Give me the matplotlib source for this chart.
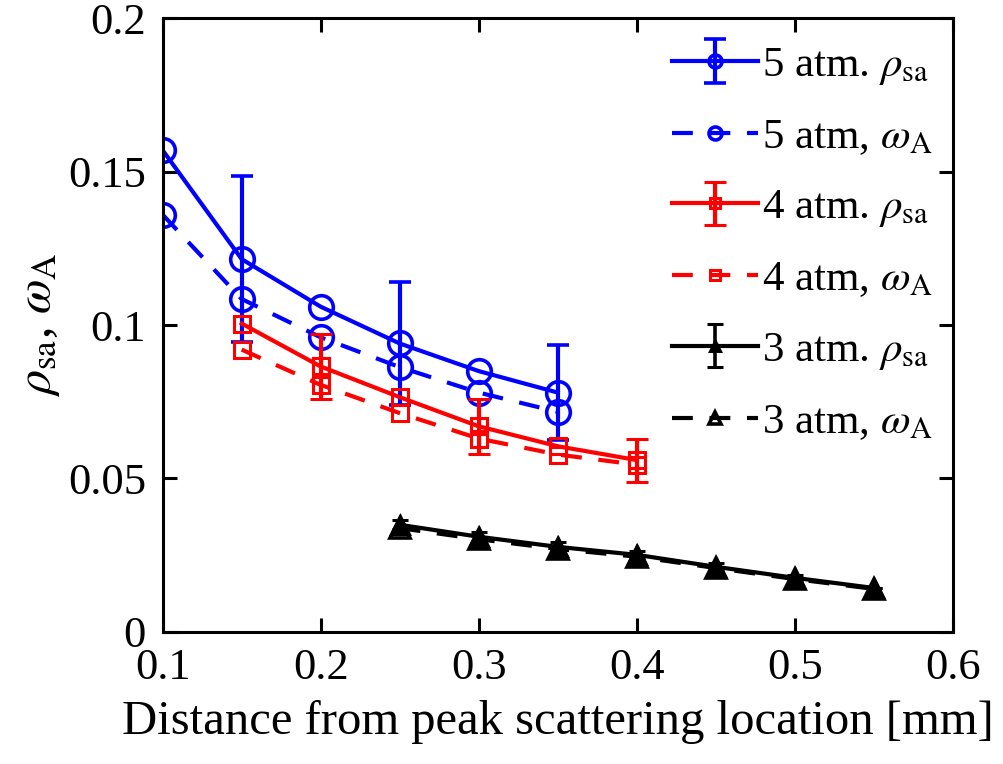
import matplotlib
matplotlib.use("Agg")
import matplotlib.pyplot as plt
import numpy as np

plt.rcParams["font.family"] = ["Liberation Serif", "DejaVu Serif"]
plt.rcParams["mathtext.fontset"] = "stix"

# 5 atm
x5 = [0.10, 0.15, 0.20, 0.25, 0.30, 0.35]
rho5 = [0.157, 0.1215, 0.106, 0.094, 0.085, 0.078]
rho5_err = [0.0, 0.027, 0.0, 0.020, 0.0, 0.0155]
om5 = [0.136, 0.1085, 0.096, 0.0863, 0.078, 0.0717]

# 4 atm
x4 = [0.15, 0.20, 0.25, 0.30, 0.35, 0.40]
rho4 = [0.1005, 0.0865, 0.0765, 0.067, 0.0605, 0.056]
rho4_err = [0.0, 0.0105, 0.0, 0.009, 0.0, 0.007]
om4 = [0.092, 0.0805, 0.0713, 0.063, 0.0578, 0.0545]

# 3 atm
x3 = [0.25, 0.30, 0.35, 0.40, 0.45, 0.50, 0.55]
rho3 = [0.0349, 0.031, 0.0277, 0.0251, 0.0212, 0.0176, 0.0143]
rho3_err = [0.0015, 0.0015, 0.0015, 0.0012, 0.0012, 0.001, 0.0]
om3 = [0.0338, 0.0302, 0.0270, 0.0245, 0.0208, 0.0172, 0.0140]

fig = plt.figure(figsize=(10.04, 7.64), dpi=100)
ax = fig.add_axes([0.162, 0.173, 0.787, 0.803])

lw = 3.0
h = []
h.append(ax.errorbar(x5, rho5, yerr=rho5_err, errorevery=(1, 2), color="blue", ls="-", lw=lw,
                     marker="o", ms=17, mfc="none", mew=2.6, capsize=8, capthick=3, elinewidth=3,
                     label=r"5 atm. $\rho_{\rm sa}$"))
h.append(ax.plot(x5, om5, color="blue", ls="--", lw=lw, dashes=(5, 4), marker="o", ms=17,
                 mfc="none", mew=2.6, label=r"5 atm, $\omega_{\rm A}$")[0])
h.append(ax.errorbar(x4, rho4, yerr=rho4_err, errorevery=(1, 2), color="red", ls="-", lw=lw,
                     marker="s", ms=12, mfc="none", mew=2.2, capsize=8, capthick=3, elinewidth=3,
                     label=r"4 atm. $\rho_{\rm sa}$"))
h.append(ax.plot(x4, om4, color="red", ls="--", lw=lw, dashes=(5, 4), marker="s", ms=12,
                 mfc="none", mew=2.2, label=r"4 atm, $\omega_{\rm A}$")[0])
h.append(ax.errorbar(x3, rho3, yerr=rho3_err, color="black", ls="-", lw=lw,
                     marker="^", ms=13, mfc="black", mew=2.2, capsize=6, capthick=2.6,
                     elinewidth=2.6, label=r"3 atm. $\rho_{\rm sa}$"))
h.append(ax.plot(x3, om3, color="black", ls="--", lw=lw, dashes=(5, 4), marker="^", ms=15,
                 mfc="none", mew=2.6, label=r"3 atm, $\omega_{\rm A}$")[0])

ax.set_xlim(0.1, 0.6)
ax.set_ylim(0, 0.2)
ax.set_xticks([0.1, 0.2, 0.3, 0.4, 0.5, 0.6])
ax.set_xticklabels(["0.1", "0.2", "0.3", "0.4", "0.5", "0.6"])
ax.set_yticks([0, 0.05, 0.1, 0.15, 0.2])
ax.set_yticklabels(["0", "0.05", "0.1", "0.15", "0.2"])
ax.tick_params(direction="in", length=10, width=2.2, labelsize=32, top=True, right=True, pad=12)
for s in ax.spines.values():
    s.set_linewidth(2.2)
ax.set_xlabel("Distance from peak scattering location [mm]", fontsize=35, labelpad=8)
ax.set_ylabel(r"$\rho_{\rm sa}$, $\omega_{\rm A}$", fontsize=36, labelpad=4)

leg = ax.legend(h, [x.get_label() for x in h], loc="upper right", frameon=False, fontsize=31,
                handlelength=2.0, handletextpad=0.1, labelspacing=0.72, borderaxespad=0.0,
                borderpad=0.0, markerscale=0.55, bbox_to_anchor=(0.975, 0.955))

fig.savefig("out.png", dpi=100)
